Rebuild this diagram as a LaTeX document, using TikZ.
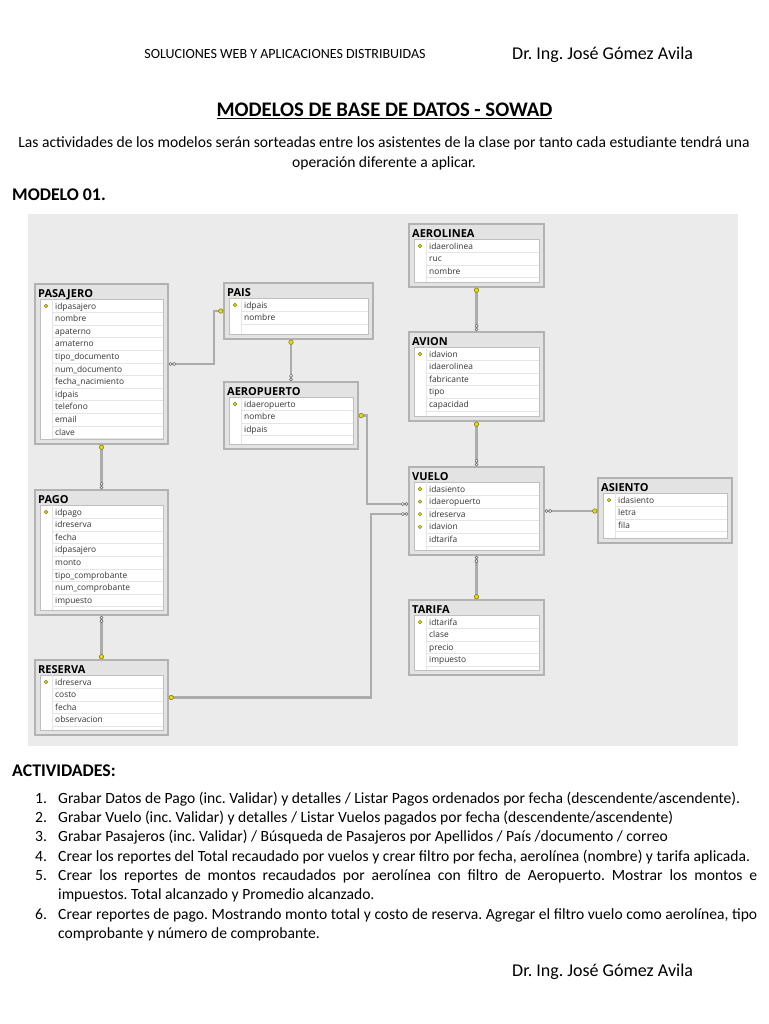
\documentclass[tikz,border=0pt]{standalone}
\usepackage{fontspec}
\setmainfont{Carlito}
\newfontfamily\tblfont{Open Sans}
\usetikzlibrary{arrows.meta,positioning,fit,calc}
\frenchspacing

\definecolor{fondo}{HTML}{EBEBEB}

\newcommand{\ertable}[8]{%
  \node[tbl, fit={(#2,#3) (#4,#5)}] (#1) {};
  \draw[panel] (#2+5,#3+15) rectangle (#4-5,#5-5);
  \draw[sep] (#2+17,#3+15) -- (#2+17,#5-5);
  \node[ttl] (#1-t) at (#2+3,#3+13.5) {#6};
  \foreach \f [count=\i] in {#8} {
    \pgfmathsetmacro\ry{#3+22+(\i-1)*12.6}
    \draw[sep] (#2+17,\ry+6.3) -- (#4-5,\ry+6.3);
    \node[fld] (#1-\i) at (#2+20,\ry+3) {\f};
    \ifnum\i>#7\else\node[pk] (#1-k\i) at (#2+11,\ry) {};\fi
  }
}

\begin{document}
\begin{tikzpicture}[
    x=1pt, y=-1pt,
    txt/.style={anchor=base west, inner sep=0pt, font=\fontsize{15.6}{19}\selectfont},
    tbl/.style={rectangle, draw=gray!60, fill=gray!22, line width=1.4pt, inner sep=0pt},
    panel/.style={fill=white, draw=gray!50, line width=0.8pt},
    sep/.style={draw=gray!20, line width=0.4pt},
    ttl/.style={anchor=base west, inner sep=0pt, font=\tblfont\bfseries\fontsize{11}{12}\selectfont},
    fld/.style={anchor=base west, inner sep=0pt, font=\tblfont\fontsize{8.4}{9}\selectfont, text=black!80},
    pk/.style={circle, fill=yellow!75!olive, draw=olive!70!black, line width=0.3pt, inner sep=0pt, minimum size=3.6pt},
    rel/.style={draw=gray!65, line width=2.2pt},
    keytip/.tip={Circle[length=5pt, width=5pt, fill=yellow!80!olive, color=olive!80!black, line width=0.5pt]},
    manytip/.tip={Circle[length=3.6pt, width=3.6pt, fill=white, color=gray!75!black, line width=0.5pt] Circle[length=3.6pt, width=3.6pt, fill=white, color=gray!75!black, line width=0.5pt]}
]
\useasboundingbox (0,0) rectangle (768,1024);
\fill[white] (0,0) rectangle (768,1024);

\node[anchor=base, inner sep=0pt, font=\fontsize{14}{16}\selectfont] (curso) at (285,58.5) {SOLUCIONES WEB Y APLICACIONES DISTRIBUIDAS};
\node[anchor=base west, inner sep=0pt, font=\fontsize{18}{21}\selectfont] (autor) at (512,60) {Dr. Ing. José Gómez Avila};
\node[anchor=base, inner sep=0pt, font=\bfseries\fontsize{20.7}{24}\selectfont] (titulo) at (384.5,116.5) {\underline{MODELOS DE BASE DE DATOS - SOWAD}};
\node[txt, anchor=base] (intro1) at (384,148) {Las actividades de los modelos serán sorteadas entre los asistentes de la clase por tanto cada estudiante tendrá una};
\node[txt, anchor=base] (intro2) at (384,167.5) {operación diferente a aplicar.};
\node[txt, font=\bfseries\fontsize{17.8}{21}\selectfont] (modelo) at (12,200.5) {MODELO 01.};

\fill[fondo] (28,214) rectangle (738,746);

\ertable{aerolinea}{409}{224}{544}{287}{AEROLINEA}{1}{idaerolinea,ruc,nombre}
\ertable{pasajero}{35}{284}{168}{444}{PASAJERO}{1}{idpasajero,nombre,apaterno,amaterno,tipo\_documento,num\_documento,fecha\_nacimiento,idpais,telefono,email,clave}
\ertable{pais}{224}{283}{373}{339}{PAIS}{1}{idpais,nombre}
\ertable{aeropuerto}{224}{382}{358}{449}{AEROPUERTO}{1}{idaeropuerto,nombre,idpais}
\ertable{avion}{409}{332}{544}{421}{AVION}{1}{idavion,idaerolinea,fabricante,tipo,capacidad}
\ertable{vuelo}{409}{467}{544}{555}{VUELO}{4}{idasiento,idaeropuerto,idreserva,idavion,idtarifa}
\ertable{asiento}{598}{478}{732}{543}{ASIENTO}{1}{idasiento,letra,fila}
\ertable{pago}{35}{490}{168}{615}{PAGO}{1}{idpago,idreserva,fecha,idpasajero,monto,tipo\_comprobante,num\_comprobante,impuesto}
\ertable{tarifa}{409}{600}{544}{675}{TARIFA}{1}{idtarifa,clase,precio,impuesto}
\ertable{reserva}{35}{660}{168}{735}{RESERVA}{1}{idreserva,costo,fecha,observacion}

\draw[rel, manytip-keytip] (pasajero.east) -- ($(pasajero.east -| pais.west)+(-9,0)$) |- (pais.west);
\draw[rel, keytip-manytip] (aeropuerto.north |- pais.south) -- (aeropuerto.north);
\draw[rel, keytip-manytip] (aerolinea.south) -- (avion.north);
\draw[rel, keytip-manytip] (avion.south) -- (vuelo.north);
\draw[rel, manytip-keytip] (vuelo.south) -- (tarifa.north);
\draw[rel, manytip-keytip] (vuelo.east) -- (vuelo.east -| asiento.west);
\draw[rel, keytip-manytip] (aeropuerto.east) -| ($(vuelo.west)+(-41,-7)$) -- ([yshift=7pt]vuelo.west);
\draw[rel, keytip-manytip] (reserva.east) -| ($(vuelo.west)+(-37,3)$) -- ([yshift=-3pt]vuelo.west);
\draw[rel, keytip-manytip] (pasajero.south) -- (pago.north);
\draw[rel, manytip-keytip] (pago.south) -- (reserva.north);

\node[txt, font=\bfseries\fontsize{17.8}{21}\selectfont] (activ) at (12,776) {ACTIVIDADES:};
\foreach \n/\yy in {1/803, 2/822, 3/841, 4/861, 5/880, 6/919}
  \node[txt] (num\n) at (35,\yy) {\n.};
\node[txt] (act1) at (58,803) {Grabar Datos de Pago (inc. Validar) y detalles / Listar Pagos ordenados por fecha (descendente/ascendente).};
\node[txt] (act2) at (58,822) {Grabar Vuelo (inc. Validar) y detalles / Listar Vuelos pagados por fecha (descendente/ascendente)};
\node[txt] (act3) at (58,841) {Grabar Pasajeros (inc. Validar) / Búsqueda de Pasajeros por Apellidos / País /documento / correo};
\node[txt] (act4) at (58,861) {Crear los reportes del Total recaudado por vuelos y crear filtro por fecha, aerolínea (nombre) y tarifa aplicada.};
\node[txt] (act5) at (58,880) {\makebox[699pt][s]{Crear los reportes de montos recaudados por aerolínea con filtro de Aeropuerto. Mostrar los montos e}};
\node[txt] (act5b) at (58,899) {impuestos. Total alcanzado y Promedio alcanzado.};
\node[txt] (act6) at (58,919) {\makebox[699pt][s]{Crear reportes de pago. Mostrando monto total y costo de reserva. Agregar el filtro vuelo como aerolínea, tipo}};
\node[txt] (act6b) at (58,938) {comprobante y número de comprobante.};

\node[anchor=base west, inner sep=0pt, font=\fontsize{18}{21}\selectfont] (firma) at (512,976) {Dr. Ing. José Gómez Avila};
\end{tikzpicture}
\end{document}
